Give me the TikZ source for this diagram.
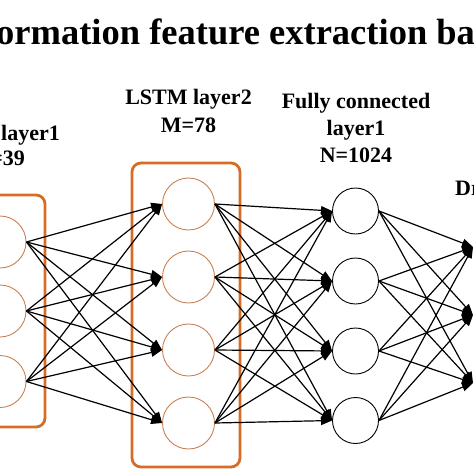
\documentclass[tikz,border=0pt]{standalone}
\usepackage{fontspec}
\setmainfont{Liberation Serif}
\usetikzlibrary{arrows.meta}
\definecolor{boxorange}{RGB}{214,108,38}
\definecolor{circorange}{RGB}{200,128,80}
\begin{document}
\begin{tikzpicture}[x=1pt,y=-1pt,
  lstmnode/.style={circle,draw=circorange,line width=0.9pt,minimum size=52pt,inner sep=0pt},
  fcnode/.style={circle,draw=black,line width=0.9pt,minimum size=46pt,inner sep=0pt},
  layerbox/.style={draw=boxorange,line width=2.8pt,rounded corners=9pt},
  conn/.style={draw=black,line width=1.2pt,-{Triangle[length=11pt,width=8.5pt]}},
  lbl/.style={font=\fontsize{22}{26}\selectfont\bfseries,inner sep=0pt},
]
\useasboundingbox (0,0) rectangle (474,474);
\clip (0,0) rectangle (474,474);

% title
\node[anchor=base west,font=\fontsize{36.5}{40}\selectfont\bfseries,inner sep=0pt] (title) at (-4,44) {ormation feature extraction ba};

% labels
\node[lbl,anchor=base east] (l1a) at (60,140) {layer1};
\node[lbl,anchor=base east] (l1b) at (25,165) {=39};
\node[lbl,anchor=base] (l2a) at (188.5,104) {LSTM layer2};
\node[lbl,anchor=base] (l2b) at (188.5,132) {M=78};
\node[lbl,anchor=base] (l3a) at (356,108) {Fully connected};
\node[lbl,anchor=base] (l3b) at (356,135) {layer1};
\node[lbl,anchor=base] (l3c) at (356,162) {N=1024};
\node[lbl,anchor=base west] (l4a) at (455,195) {Dr};

% boxes
\draw[layerbox] (-60,195) rectangle (45,427);
\draw[layerbox] (132,163) rectangle (240,467);

% layer 1
\node[lstmnode] (a1) at (0,242) {};
\node[lstmnode] (a2) at (0,311) {};
\node[lstmnode] (a3) at (0,381.5) {};
% layer 2
\node[lstmnode] (b1) at (188.5,204) {};
\node[lstmnode] (b2) at (188.5,277) {};
\node[lstmnode] (b3) at (188.5,350) {};
\node[lstmnode] (b4) at (188.5,423) {};
% layer 3
\node[fcnode] (c1) at (355.5,211) {};
\node[fcnode] (c2) at (355.5,281) {};
\node[fcnode] (c3) at (355.5,351) {};
\node[fcnode] (c4) at (355.5,420.5) {};
% layer 4 (off page)
\coordinate (d1) at (473,247);
\coordinate (d2) at (473,315);
\coordinate (d3) at (473,383);

\foreach \i in {1,2,3} \foreach \j in {1,...,4} \draw[conn] (a\i.east) -- (b\j.west);
\foreach \i in {1,...,4} \foreach \j in {1,...,4} \draw[conn] (b\i.east) -- (c\j.west);
\foreach \i in {1,...,4} \foreach \j in {1,2,3} \draw[conn] (c\i.east) -- (d\j);
\end{tikzpicture}
\end{document}
